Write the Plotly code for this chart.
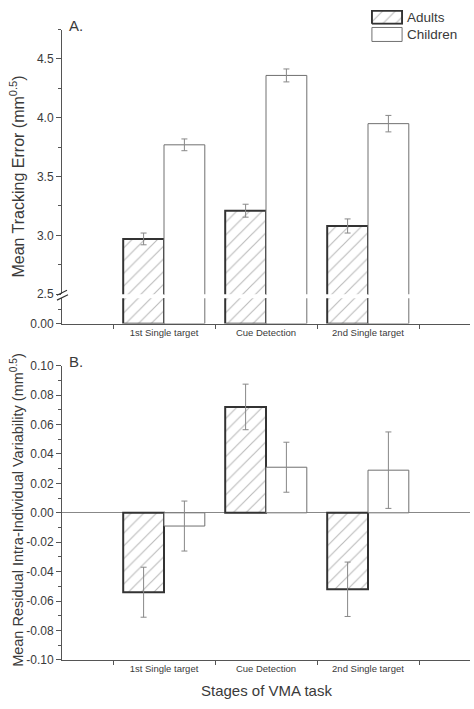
import plotly.graph_objects as go

# ---------------- data ----------------
stages = ["1st Single target", "Cue Detection", "2nd Single target"]

track_adults = [2.97, 3.21, 3.08]
track_adults_se = [0.05, 0.055, 0.06]
track_children = [3.77, 4.36, 3.95]
track_children_se = [0.05, 0.055, 0.07]

var_adults = [-0.054, 0.072, -0.052]
var_adults_se = [0.017, 0.0155, 0.0185]
var_children = [-0.009, 0.031, 0.029]
var_children_se = [0.017, 0.017, 0.026]

upper_ticks = [2.5, 3.0, 3.5, 4.0, 4.5]
b_ticks = [0.10, 0.08, 0.06, 0.04, 0.02, 0.00, -0.02, -0.04, -0.06, -0.08, -0.10]

# ---------------- geometry helpers ----------------
W, H = 474, 709
def fx(px):
    return px / W
def fy(py):
    return 1 - py / H

FONT = "Liberation Sans, Arial, sans-serif"
TXT = "#3a3a3a"
AX = "#555555"
ERR = "#888888"

HATCH = dict(shape="/", size=9, solidity=0.13, fgcolor="#7a7a7a", bgcolor="white")
adult_marker = dict(color="white", pattern=HATCH, line=dict(color="#333333", width=2))
child_marker = dict(color="white", line=dict(color="#707070", width=1))

fig = go.Figure()

def err(arr):
    return dict(type="data", array=arr, color=ERR, thickness=1, width=3)

# Panel A, upper segment
fig.add_trace(go.Bar(x=stages, y=track_adults, width=0.4, offset=-0.4, marker=adult_marker,
                     error_y=err(track_adults_se), xaxis="x", yaxis="y2", showlegend=False))
fig.add_trace(go.Bar(x=stages, y=track_children, width=0.4, offset=0.0, marker=child_marker,
                     error_y=err(track_children_se), xaxis="x", yaxis="y2", showlegend=False))
# Panel A, lower segment
fig.add_trace(go.Bar(x=stages, y=track_adults, width=0.4, offset=-0.4, marker=adult_marker,
                     xaxis="x", yaxis="y", showlegend=False))
fig.add_trace(go.Bar(x=stages, y=track_children, width=0.4, offset=0.0, marker=child_marker,
                     xaxis="x", yaxis="y", showlegend=False))
# Panel B
fig.add_trace(go.Bar(x=stages, y=var_adults, width=0.4, offset=-0.4, marker=adult_marker,
                     error_y=err(var_adults_se), xaxis="x2", yaxis="y3", showlegend=False))
fig.add_trace(go.Bar(x=stages, y=var_children, width=0.4, offset=0.0, marker=child_marker,
                     error_y=err(var_children_se), xaxis="x2", yaxis="y3", showlegend=False))

# Legend swatches (overlay axes)
fig.add_trace(go.Scatter(x=[0, 1, 1, 0, 0], y=[0, 0, 1, 1, 0], mode="lines", fill="toself",
                         fillcolor="white", fillpattern=HATCH,
                         line=dict(color="#333333", width=2), xaxis="x3", yaxis="y4",
                         showlegend=False, hoverinfo="skip"))
fig.add_trace(go.Scatter(x=[0, 1, 1, 0, 0], y=[0, 0, 1, 1, 0], mode="lines", fill="toself",
                         fillcolor="white", line=dict(color="#707070", width=1),
                         xaxis="x3", yaxis="y5", showlegend=False, hoverinfo="skip"))

xdom = [fx(62), fx(470)]
tickfont_x = dict(family=FONT, size=9.5, color=TXT)
tickfont_y = dict(family=FONT, size=12, color=TXT)

xcommon = dict(type="category", categoryorder="array", categoryarray=stages, range=[-1, 3],
               tickson="boundaries", ticks="outside", ticklen=4, tickcolor=AX,
               showline=True, linecolor=AX, linewidth=1, showgrid=False, zeroline=False,
               tickfont=tickfont_x, domain=xdom, fixedrange=True)

ycommon = dict(ticks="outside", ticklen=5, tickcolor=AX, showline=True, linecolor=AX, linewidth=1,
               showgrid=False, tickfont=tickfont_y, fixedrange=True)

fig.update_layout(
    width=W, height=H,
    margin=dict(l=0, r=0, t=0, b=0),
    paper_bgcolor="white", plot_bgcolor="rgba(0,0,0,0)",
    barmode="overlay",
    font=dict(family=FONT, color=TXT),
    xaxis=dict(anchor="y", **xcommon),
    xaxis2=dict(anchor="y3", **xcommon),
    yaxis=dict(domain=[fy(323), fy(297)], range=[0, 1], anchor="x",
               tickmode="array", tickvals=[0], ticktext=["0.00"], zeroline=False,
               minor=dict(tickmode="linear", tick0=0.55, dtick=10, ticks="outside", ticklen=3, tickcolor=AX),
               **ycommon),
    yaxis2=dict(domain=[fy(293), fy(23)], range=[2.5, 4.75], anchor="x",
                tickmode="array", tickvals=upper_ticks, ticktext=[f"{v:.1f}" for v in upper_ticks],
                zeroline=False,
                minor=dict(tickmode="linear", tick0=2.5, dtick=0.25, ticks="outside", ticklen=3, tickcolor=AX),
                **ycommon),
    yaxis3=dict(domain=[fy(666), fy(366)], range=[-0.10, 0.10], anchor="x2",
                tickmode="array", tickvals=b_ticks,
                ticktext=[f"{v:.2f}".replace("-0.00", "0.00") for v in b_ticks],
                zeroline=True, zerolinecolor="#888888", zerolinewidth=1,
                minor=dict(tickmode="linear", tick0=0.0, dtick=0.01, ticks="outside", ticklen=3, tickcolor=AX),
                **ycommon),
    xaxis3=dict(domain=[fx(371), fx(403)], range=[-0.03, 1.03], visible=False, fixedrange=True, anchor="y4"),
    yaxis4=dict(domain=[fy(18), fy(3)], range=[-0.06, 1.06], visible=False, fixedrange=True, anchor="x3"),
    yaxis5=dict(domain=[fy(36), fy(20)], range=[-0.06, 1.06], visible=False, fixedrange=True, anchor="x3"),
)

ann = [
    dict(text="A.", x=fx(67), y=fy(19), xanchor="left", yanchor="middle", font=dict(size=15)),
    dict(text="B.", x=fx(67), y=fy(362), xanchor="left", yanchor="middle", font=dict(size=15)),
    dict(text="Adults", x=fx(405), y=fy(11), xanchor="left", yanchor="middle", font=dict(size=13.5)),
    dict(text="Children", x=fx(405), y=fy(28), xanchor="left", yanchor="middle", font=dict(size=13.5)),
    dict(text="Mean Tracking Error (mm<sup>0.5</sup>)", x=fx(17), y=fy(173), textangle=-90,
         xanchor="center", yanchor="middle", font=dict(size=16)),
    dict(text="Mean Residual Intra-Individual Variability (mm<sup>0.5</sup>)", x=fx(17), y=fy(513),
         textangle=-90, xanchor="center", yanchor="middle", font=dict(size=14.5)),
    dict(text="Stages of VMA task", x=fx(266), y=fy(697), xanchor="center", yanchor="middle",
         font=dict(size=15)),
]
for a in ann:
    a.update(xref="paper", yref="paper", showarrow=False)
    a["font"] = dict(family=FONT, color=TXT, **a["font"])
fig.update_layout(annotations=ann)

# axis break marks
brk = [((57, 294), (67, 289)), ((57, 299), (68, 293.5))]
shapes = []
for (x0, y0), (x1, y1) in brk:
    shapes.append(dict(type="line", xref="paper", yref="paper", x0=fx(x0), y0=fy(y0), x1=fx(x1), y1=fy(y1),
                       line=dict(color="#333333", width=1.2)))
fig.update_layout(shapes=shapes)

fig.write_html("out.html")
